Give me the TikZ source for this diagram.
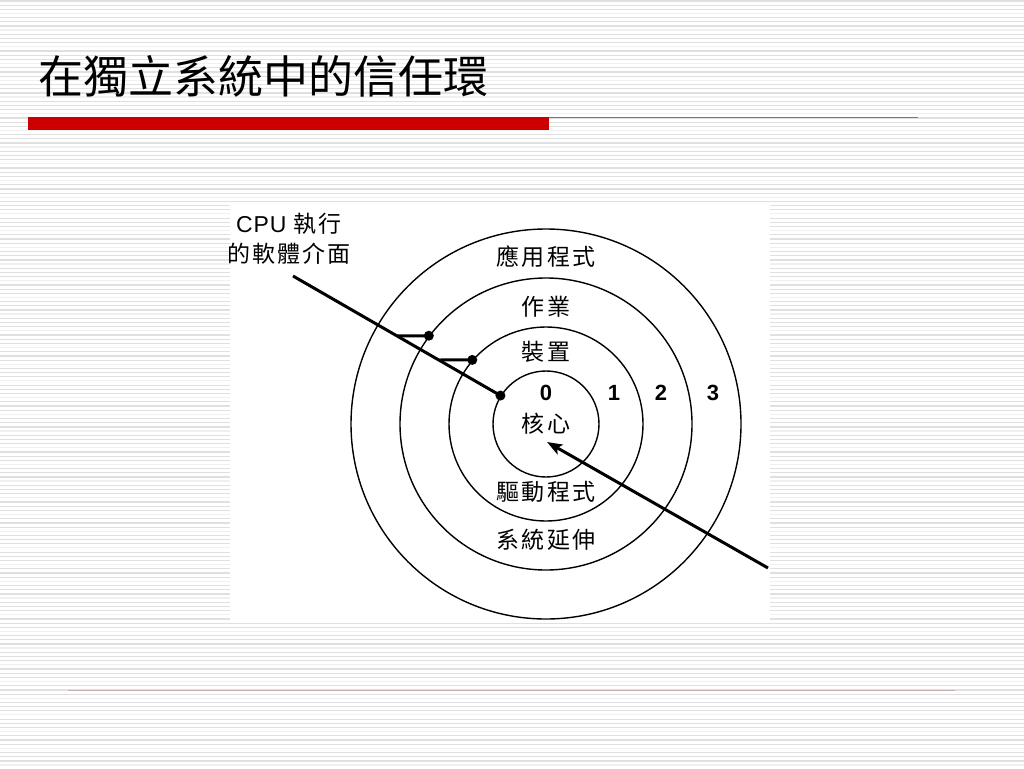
\documentclass[tikz,border=0pt]{standalone}
\usepackage{fontspec}
\usetikzlibrary{arrows.meta}
\newfontfamily\cjk{Noto Sans CJK TC}
\newfontfamily\cjkwide[LetterSpace=9]{Noto Sans CJK TC}
\newfontfamily\arial{Liberation Sans}
\newfontfamily\arialwide[LetterSpace=4]{Liberation Sans}
\definecolor{slidered}{RGB}{204,0,0}
\definecolor{thinred}{RGB}{190,90,90}
\definecolor{stripe}{RGB}{224,224,224}
\definecolor{stripelight}{RGB}{240,240,240}
\definecolor{rule}{RGB}{200,175,175}

\begin{document}
\begin{tikzpicture}[x=1pt,y=-1pt,thick,
    ring/.style={circle,draw,line width=1.4pt,inner sep=0pt},
    dot/.style={circle,fill,inner sep=0pt,minimum size=10pt},
    lbl/.style={font=\cjkwide\fontsize{23}{25}\selectfont,inner sep=0pt},
    num/.style={font=\arial\bfseries\fontsize{22}{26}\selectfont,inner sep=0pt}]
    \useasboundingbox (0,0) rectangle (1024,768);
    % slide background
    \fill[white] (0,0) rectangle (1024,768);
    \foreach \i in {0,...,46}{
        \draw[stripe,line width=1.2pt] (0,16.7*\i+1) -- (1024,16.7*\i+1);
        \draw[stripe,line width=1.2pt] (0,16.7*\i+5.2) -- (1024,16.7*\i+5.2);
        \draw[stripe,line width=1.2pt] (0,16.7*\i+9.4) -- (1024,16.7*\i+9.4);
        \draw[stripelight,line width=1.2pt] (0,16.7*\i+13.4) -- (1024,16.7*\i+13.4);
    }
    \fill[white] (230,205) rectangle (770,621);

    % title
    \node[anchor=west,inner sep=0pt,font=\cjk\fontsize{45}{50}\selectfont] (title) at (38,76) {在獨立系統中的信任環};
    \fill[slidered] (28,117) rectangle (549,130);
    \draw[thinred,line width=1pt] (549,117.5) -- (918,117.5);
    \draw[rule,line width=1pt] (68,690) -- (955,690);

    % rings
    \node[ring,minimum size=390pt] (r3) at (546,424) {};
    \node[ring,minimum size=292pt] (r2) at (546,424) {};
    \node[ring,minimum size=194pt] (r1) at (546,424) {};
    \node[ring,minimum size=106pt] (r0) at (546,424) {};

    \node[lbl] (app) at (546,257) {應用程式};
    \node[lbl] (task) at (546,307) {作業};
    \node[lbl] (dev) at (546,352) {裝置};
    \node[lbl] (kern) at (546,424) {核心};
    \node[lbl] (drv) at (546,492) {驅動程式};
    \node[lbl] (ext) at (546,540) {系統延伸};

    \node[num] (n0) at (546,393) {0};
    \node[num] (n1) at (614,393) {1};
    \node[num] (n2) at (661,393) {2};
    \node[num] (n3) at (713,393) {3};

    \node[lbl,align=center,font=\cjkwide\fontsize{23}{30}\selectfont] (cpu) at (289,239) {{\arialwide CPU} 執行\\的軟體介面};

    % gates
    \node[dot] (d0) at (r0.148) {};
    \node[dot] (d1) at (r1.139) {};
    \node[dot] (d2) at (r2.143) {};
    \coordinate (s) at (293,276);
    \coordinate (t1) at (439,360);
    \coordinate (t2) at (397,336);
    \coordinate (e) at (768,568);
    \coordinate (a) at (547,442);

    \path[line width=3pt]
        (s) edge (d0.center)
        (d1.center) edge (t1)
        (d2.center) edge (t2);
    \draw[-{Stealth[length=15pt,width=11pt,inset=3pt]},line width=3pt] (e) -- (a);
\end{tikzpicture}
\end{document}
